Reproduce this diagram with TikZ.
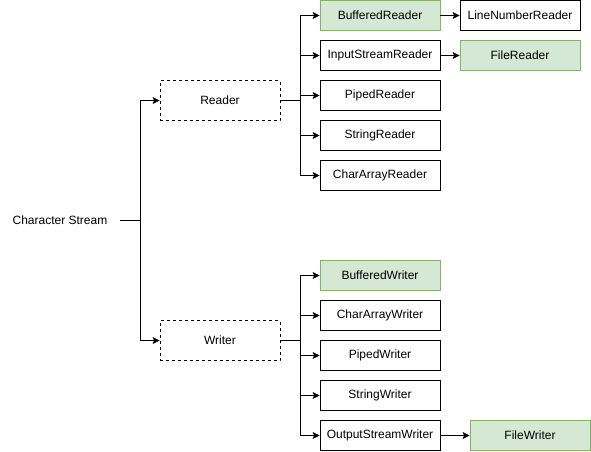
\documentclass[tikz,border=0pt]{standalone}
\usepackage{fontspec}
\setmainfont{Liberation Sans}
\usetikzlibrary{arrows.meta}
\definecolor{hotfill}{HTML}{D5E8D4}
\definecolor{hotline}{HTML}{82B366}
\begin{document}
\begin{tikzpicture}[x=1pt,y=-1pt,font=\fontsize{12}{14}\selectfont]
\tikzstyle{cls}=[draw,line width=0.8pt,minimum width=120pt,minimum height=30pt,inner sep=0pt]
\tikzstyle{hot}=[cls,draw=hotline,fill=hotfill]
\tikzstyle{abs}=[draw,dashed,line width=0.8pt,minimum width=120pt,minimum height=40pt,inner sep=0pt]
\tikzstyle{arr}=[line width=0.8pt,-{Stealth[length=7pt,width=7pt,inset=1.5pt]}]

\useasboundingbox (0,-0.5) rectangle (591,450.5);

\node[minimum width=120pt,inner sep=0pt] (cs) at (60,220) {Character Stream};
\node[abs] (reader) at (220,100) {Reader};
\node[abs] (writer) at (220,340) {Writer};

\draw[arr] (cs.east) -- ++(20,0) |- (reader.west);
\draw[arr] (cs.east) -- ++(20,0) |- (writer.west);

% reader side
\foreach \n/\y/\s/\t in {br/15/hot/BufferedReader,isr/55/cls/InputStreamReader,
  pr/95/cls/PipedReader,sr/135/cls/StringReader,car/175/cls/CharArrayReader}
{
  \node[\s] (\n) at (380,\y) {\t};
  \draw[arr] (reader.east) -- ++(20,0) |- (\n.west);
}
\node[cls] (lnr) at (520,15) {LineNumberReader};
\node[hot] (fr) at (520,55) {FileReader};
\draw[arr] (br) -- (lnr);
\draw[arr] (isr) -- (fr);

% writer side
\foreach \n/\y/\s/\t in {bw/275/hot/BufferedWriter,caw/315/cls/CharArrayWriter,
  pw/355/cls/PipedWriter,sw/395/cls/StringWriter,osw/435/cls/OutputStreamWriter}
{
  \node[\s] (\n) at (380,\y) {\t};
  \draw[arr] (writer.east) -- ++(20,0) |- (\n.west);
}
\node[hot] (fw) at (530,435) {FileWriter};
\draw[arr] (osw) -- (fw);

\end{tikzpicture}
\end{document}
